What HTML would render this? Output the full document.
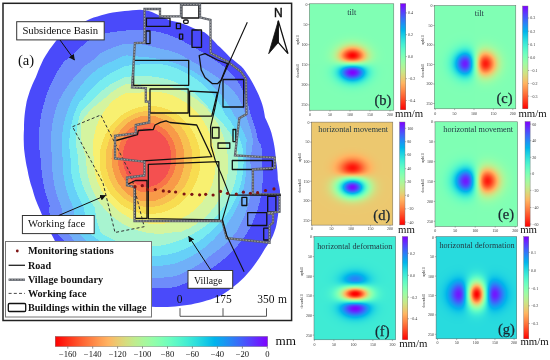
<!DOCTYPE html>
<html><head><meta charset="utf-8"><title>Subsidence figure</title>
<style>
html,body{margin:0;padding:0;background:#fff}
body{width:550px;height:360px;position:relative;overflow:hidden;font-family:"Liberation Serif",serif}
canvas{position:absolute;left:0;top:0}
svg{position:absolute;left:0;top:0}
.t{font-family:"Liberation Serif",serif;fill:#111}
.tk{font-family:"Liberation Serif",serif;fill:#333;font-size:4px}
</style></head><body>
<svg id="fb" width="550" height="360" viewBox="0 0 550 360"><defs><clipPath id="fbcb"><rect x="309.5" y="3.8" width="84.3" height="106.4"/></clipPath><radialGradient id="fg1"><stop offset="0.00" stop-color="#ff0000" stop-opacity="1.00"/><stop offset="0.10" stop-color="#ff0d07" stop-opacity="1.00"/><stop offset="0.20" stop-color="#ff3219" stop-opacity="1.00"/><stop offset="0.30" stop-color="#ff6634" stop-opacity="1.00"/><stop offset="0.40" stop-color="#ff9c52" stop-opacity="1.00"/><stop offset="0.50" stop-color="#edc76e" stop-opacity="1.00"/><stop offset="0.60" stop-color="#cbe486" stop-opacity="0.89"/><stop offset="0.70" stop-color="#b0f497" stop-opacity="0.67"/><stop offset="0.80" stop-color="#9dfba3" stop-opacity="0.44"/><stop offset="0.90" stop-color="#90feab" stop-opacity="0.22"/><stop offset="1.00" stop-color="#88ffaf" stop-opacity="0.00"/></radialGradient><radialGradient id="fg2"><stop offset="0.00" stop-color="#8000ff" stop-opacity="1.00"/><stop offset="0.10" stop-color="#770dff" stop-opacity="1.00"/><stop offset="0.20" stop-color="#5f32fe" stop-opacity="1.00"/><stop offset="0.30" stop-color="#3d66fa" stop-opacity="1.00"/><stop offset="0.40" stop-color="#159cf1" stop-opacity="1.00"/><stop offset="0.50" stop-color="#12c7e6" stop-opacity="1.00"/><stop offset="0.60" stop-color="#34e4d9" stop-opacity="0.89"/><stop offset="0.70" stop-color="#4ff4cd" stop-opacity="0.67"/><stop offset="0.80" stop-color="#62fbc4" stop-opacity="0.44"/><stop offset="0.90" stop-color="#6ffebd" stop-opacity="0.22"/><stop offset="1.00" stop-color="#77ffb9" stop-opacity="0.00"/></radialGradient><linearGradient id="fg3" x1="0" y1="0" x2="0" y2="1"><stop offset="0.000" stop-color="#8000ff"/><stop offset="0.062" stop-color="#6032fe"/><stop offset="0.125" stop-color="#4062fa"/><stop offset="0.188" stop-color="#208ef4"/><stop offset="0.250" stop-color="#00b4ec"/><stop offset="0.312" stop-color="#20d4e1"/><stop offset="0.375" stop-color="#40ecd4"/><stop offset="0.438" stop-color="#60fac5"/><stop offset="0.500" stop-color="#80ffb4"/><stop offset="0.562" stop-color="#9ffaa2"/><stop offset="0.625" stop-color="#bfec8e"/><stop offset="0.688" stop-color="#dfd478"/><stop offset="0.750" stop-color="#ffb462"/><stop offset="0.812" stop-color="#ff8e4a"/><stop offset="0.875" stop-color="#ff6232"/><stop offset="0.938" stop-color="#ff3219"/><stop offset="1.000" stop-color="#ff0000"/></linearGradient><clipPath id="fbcc"><rect x="434.5" y="5.6" width="81.3" height="103.2"/></clipPath><radialGradient id="fg4"><stop offset="0.00" stop-color="#6f1aff" stop-opacity="1.00"/><stop offset="0.10" stop-color="#6726fe" stop-opacity="1.00"/><stop offset="0.20" stop-color="#5148fc" stop-opacity="1.00"/><stop offset="0.30" stop-color="#3177f7" stop-opacity="1.00"/><stop offset="0.40" stop-color="#0ba7ef" stop-opacity="1.00"/><stop offset="0.50" stop-color="#19cee3" stop-opacity="1.00"/><stop offset="0.60" stop-color="#39e7d7" stop-opacity="0.89"/><stop offset="0.70" stop-color="#52f5cc" stop-opacity="0.67"/><stop offset="0.80" stop-color="#64fbc3" stop-opacity="0.44"/><stop offset="0.90" stop-color="#70febd" stop-opacity="0.22"/><stop offset="1.00" stop-color="#77ffb9" stop-opacity="0.00"/></radialGradient><radialGradient id="fg5"><stop offset="0.00" stop-color="#ff1a0d" stop-opacity="1.00"/><stop offset="0.10" stop-color="#ff2613" stop-opacity="1.00"/><stop offset="0.20" stop-color="#ff4824" stop-opacity="1.00"/><stop offset="0.30" stop-color="#ff773d" stop-opacity="1.00"/><stop offset="0.40" stop-color="#ffa759" stop-opacity="1.00"/><stop offset="0.50" stop-color="#e6ce73" stop-opacity="1.00"/><stop offset="0.60" stop-color="#c6e789" stop-opacity="0.89"/><stop offset="0.70" stop-color="#adf599" stop-opacity="0.67"/><stop offset="0.80" stop-color="#9bfba4" stop-opacity="0.44"/><stop offset="0.90" stop-color="#8ffeac" stop-opacity="0.22"/><stop offset="1.00" stop-color="#88ffb0" stop-opacity="0.00"/></radialGradient><linearGradient id="fg6" x1="0" y1="0" x2="0" y2="1"><stop offset="0.000" stop-color="#8000ff"/><stop offset="0.062" stop-color="#6032fe"/><stop offset="0.125" stop-color="#4062fa"/><stop offset="0.188" stop-color="#208ef4"/><stop offset="0.250" stop-color="#00b4ec"/><stop offset="0.312" stop-color="#20d4e1"/><stop offset="0.375" stop-color="#40ecd4"/><stop offset="0.438" stop-color="#60fac5"/><stop offset="0.500" stop-color="#80ffb4"/><stop offset="0.562" stop-color="#9ffaa2"/><stop offset="0.625" stop-color="#bfec8e"/><stop offset="0.688" stop-color="#dfd478"/><stop offset="0.750" stop-color="#ffb462"/><stop offset="0.812" stop-color="#ff8e4a"/><stop offset="0.875" stop-color="#ff6232"/><stop offset="0.938" stop-color="#ff3219"/><stop offset="1.000" stop-color="#ff0000"/></linearGradient><clipPath id="fbcd"><rect x="311.5" y="122.1" width="81.3" height="103.0"/></clipPath><radialGradient id="fg7"><stop offset="0.00" stop-color="#ff160b" stop-opacity="1.00"/><stop offset="0.10" stop-color="#ff1d0e" stop-opacity="1.00"/><stop offset="0.20" stop-color="#ff3018" stop-opacity="1.00"/><stop offset="0.30" stop-color="#ff4c26" stop-opacity="1.00"/><stop offset="0.40" stop-color="#ff6a36" stop-opacity="1.00"/><stop offset="0.50" stop-color="#ff8646" stop-opacity="1.00"/><stop offset="0.60" stop-color="#ff9d53" stop-opacity="0.89"/><stop offset="0.70" stop-color="#ffae5d" stop-opacity="0.67"/><stop offset="0.80" stop-color="#fbb965" stop-opacity="0.44"/><stop offset="0.90" stop-color="#f4c069" stop-opacity="0.22"/><stop offset="1.00" stop-color="#f0c46c" stop-opacity="0.00"/></radialGradient><radialGradient id="fg8"><stop offset="0.00" stop-color="#790aff" stop-opacity="1.00"/><stop offset="0.10" stop-color="#6d1dff" stop-opacity="1.00"/><stop offset="0.20" stop-color="#4c50fc" stop-opacity="1.00"/><stop offset="0.30" stop-color="#1b93f3" stop-opacity="1.00"/><stop offset="0.40" stop-color="#1cd1e2" stop-opacity="1.00"/><stop offset="0.50" stop-color="#52f5cc" stop-opacity="1.00"/><stop offset="0.60" stop-color="#82ffb3" stop-opacity="0.89"/><stop offset="0.70" stop-color="#a8f79d" stop-opacity="0.67"/><stop offset="0.80" stop-color="#c3ea8b" stop-opacity="0.44"/><stop offset="0.90" stop-color="#d5dd7f" stop-opacity="0.22"/><stop offset="1.00" stop-color="#e0d478" stop-opacity="0.00"/></radialGradient><linearGradient id="fg9" x1="0" y1="0" x2="0" y2="1"><stop offset="0.000" stop-color="#8000ff"/><stop offset="0.062" stop-color="#6032fe"/><stop offset="0.125" stop-color="#4062fa"/><stop offset="0.188" stop-color="#208ef4"/><stop offset="0.250" stop-color="#00b4ec"/><stop offset="0.312" stop-color="#20d4e1"/><stop offset="0.375" stop-color="#40ecd4"/><stop offset="0.438" stop-color="#60fac5"/><stop offset="0.500" stop-color="#80ffb4"/><stop offset="0.562" stop-color="#9ffaa2"/><stop offset="0.625" stop-color="#bfec8e"/><stop offset="0.688" stop-color="#dfd478"/><stop offset="0.750" stop-color="#ffb462"/><stop offset="0.812" stop-color="#ff8e4a"/><stop offset="0.875" stop-color="#ff6232"/><stop offset="0.938" stop-color="#ff3219"/><stop offset="1.000" stop-color="#ff0000"/></linearGradient><clipPath id="fbce"><rect x="435.0" y="121.8" width="82.5" height="104.6"/></clipPath><radialGradient id="fg10"><stop offset="0.00" stop-color="#7019ff" stop-opacity="1.00"/><stop offset="0.10" stop-color="#6825fe" stop-opacity="1.00"/><stop offset="0.20" stop-color="#5147fc" stop-opacity="1.00"/><stop offset="0.30" stop-color="#3177f8" stop-opacity="1.00"/><stop offset="0.40" stop-color="#0ca7ef" stop-opacity="1.00"/><stop offset="0.50" stop-color="#19cee3" stop-opacity="1.00"/><stop offset="0.60" stop-color="#39e7d7" stop-opacity="0.89"/><stop offset="0.70" stop-color="#52f5cc" stop-opacity="0.67"/><stop offset="0.80" stop-color="#64fbc3" stop-opacity="0.44"/><stop offset="0.90" stop-color="#70febd" stop-opacity="0.22"/><stop offset="1.00" stop-color="#77ffb9" stop-opacity="0.00"/></radialGradient><radialGradient id="fg11"><stop offset="0.00" stop-color="#ff190c" stop-opacity="1.00"/><stop offset="0.10" stop-color="#ff2513" stop-opacity="1.00"/><stop offset="0.20" stop-color="#ff4724" stop-opacity="1.00"/><stop offset="0.30" stop-color="#ff773d" stop-opacity="1.00"/><stop offset="0.40" stop-color="#ffa759" stop-opacity="1.00"/><stop offset="0.50" stop-color="#e6ce73" stop-opacity="1.00"/><stop offset="0.60" stop-color="#c6e789" stop-opacity="0.89"/><stop offset="0.70" stop-color="#adf599" stop-opacity="0.67"/><stop offset="0.80" stop-color="#9bfba4" stop-opacity="0.44"/><stop offset="0.90" stop-color="#8ffeac" stop-opacity="0.22"/><stop offset="1.00" stop-color="#88ffb0" stop-opacity="0.00"/></radialGradient><linearGradient id="fg12" x1="0" y1="0" x2="0" y2="1"><stop offset="0.000" stop-color="#8000ff"/><stop offset="0.062" stop-color="#6032fe"/><stop offset="0.125" stop-color="#4062fa"/><stop offset="0.188" stop-color="#208ef4"/><stop offset="0.250" stop-color="#00b4ec"/><stop offset="0.312" stop-color="#20d4e1"/><stop offset="0.375" stop-color="#40ecd4"/><stop offset="0.438" stop-color="#60fac5"/><stop offset="0.500" stop-color="#80ffb4"/><stop offset="0.562" stop-color="#9ffaa2"/><stop offset="0.625" stop-color="#bfec8e"/><stop offset="0.688" stop-color="#dfd478"/><stop offset="0.750" stop-color="#ffb462"/><stop offset="0.812" stop-color="#ff8e4a"/><stop offset="0.875" stop-color="#ff6232"/><stop offset="0.938" stop-color="#ff3219"/><stop offset="1.000" stop-color="#ff0000"/></linearGradient><clipPath id="fbcf"><rect x="314.0" y="236.7" width="81.6" height="103.1"/></clipPath><radialGradient id="fg13"><stop offset="0.00" stop-color="#2686f5" stop-opacity="1.00"/><stop offset="0.10" stop-color="#238af5" stop-opacity="1.00"/><stop offset="0.20" stop-color="#1996f2" stop-opacity="1.00"/><stop offset="0.30" stop-color="#0ca7ef" stop-opacity="1.00"/><stop offset="0.40" stop-color="#04b9ea" stop-opacity="1.00"/><stop offset="0.50" stop-color="#14c9e5" stop-opacity="1.00"/><stop offset="0.60" stop-color="#21d5e0" stop-opacity="0.89"/><stop offset="0.70" stop-color="#2cdedc" stop-opacity="0.67"/><stop offset="0.80" stop-color="#33e3d9" stop-opacity="0.44"/><stop offset="0.90" stop-color="#38e7d7" stop-opacity="0.22"/><stop offset="1.00" stop-color="#3be9d6" stop-opacity="0.00"/></radialGradient><radialGradient id="fg14"><stop offset="0.00" stop-color="#7a09ff" stop-opacity="1.00"/><stop offset="0.10" stop-color="#7313ff" stop-opacity="1.00"/><stop offset="0.20" stop-color="#622efe" stop-opacity="1.00"/><stop offset="0.30" stop-color="#4954fb" stop-opacity="1.00"/><stop offset="0.40" stop-color="#2d7df7" stop-opacity="1.00"/><stop offset="0.50" stop-color="#10a1f0" stop-opacity="1.00"/><stop offset="0.60" stop-color="#08bde9" stop-opacity="0.89"/><stop offset="0.70" stop-color="#1cd0e2" stop-opacity="0.67"/><stop offset="0.80" stop-color="#2adcdd" stop-opacity="0.44"/><stop offset="0.90" stop-color="#33e3d9" stop-opacity="0.22"/><stop offset="1.00" stop-color="#39e7d7" stop-opacity="0.00"/></radialGradient><radialGradient id="fg15"><stop offset="0.00" stop-color="#ff0000" stop-opacity="1.00"/><stop offset="0.10" stop-color="#ff1108" stop-opacity="1.00"/><stop offset="0.20" stop-color="#ff3f20" stop-opacity="1.00"/><stop offset="0.30" stop-color="#ff7e41" stop-opacity="1.00"/><stop offset="0.40" stop-color="#f9bb66" stop-opacity="1.00"/><stop offset="0.50" stop-color="#c8e688" stop-opacity="1.00"/><stop offset="0.60" stop-color="#9efba3" stop-opacity="0.89"/><stop offset="0.70" stop-color="#7cffb6" stop-opacity="0.67"/><stop offset="0.80" stop-color="#64fbc3" stop-opacity="0.44"/><stop offset="0.90" stop-color="#54f6cb" stop-opacity="0.22"/><stop offset="1.00" stop-color="#4af1d0" stop-opacity="0.00"/></radialGradient><linearGradient id="fg16" x1="0" y1="0" x2="0" y2="1"><stop offset="0.000" stop-color="#8000ff"/><stop offset="0.062" stop-color="#6032fe"/><stop offset="0.125" stop-color="#4062fa"/><stop offset="0.188" stop-color="#208ef4"/><stop offset="0.250" stop-color="#00b4ec"/><stop offset="0.312" stop-color="#20d4e1"/><stop offset="0.375" stop-color="#40ecd4"/><stop offset="0.438" stop-color="#60fac5"/><stop offset="0.500" stop-color="#80ffb4"/><stop offset="0.562" stop-color="#9ffaa2"/><stop offset="0.625" stop-color="#bfec8e"/><stop offset="0.688" stop-color="#dfd478"/><stop offset="0.750" stop-color="#ffb462"/><stop offset="0.812" stop-color="#ff8e4a"/><stop offset="0.875" stop-color="#ff6232"/><stop offset="0.938" stop-color="#ff3219"/><stop offset="1.000" stop-color="#ff0000"/></linearGradient><clipPath id="fbcg"><rect x="436.1" y="236.7" width="80.6" height="102.1"/></clipPath><radialGradient id="fg17"><stop offset="0.00" stop-color="#7117ff" stop-opacity="1.00"/><stop offset="0.10" stop-color="#6c1fff" stop-opacity="1.00"/><stop offset="0.20" stop-color="#5d35fe" stop-opacity="1.00"/><stop offset="0.30" stop-color="#4955fb" stop-opacity="1.00"/><stop offset="0.40" stop-color="#3177f8" stop-opacity="1.00"/><stop offset="0.50" stop-color="#1996f3" stop-opacity="1.00"/><stop offset="0.60" stop-color="#05afed" stop-opacity="0.89"/><stop offset="0.70" stop-color="#0bc0e8" stop-opacity="0.67"/><stop offset="0.80" stop-color="#17cce4" stop-opacity="0.44"/><stop offset="0.90" stop-color="#1ed3e1" stop-opacity="0.22"/><stop offset="1.00" stop-color="#23d7e0" stop-opacity="0.00"/></radialGradient><radialGradient id="fg18"><stop offset="0.00" stop-color="#7117ff" stop-opacity="1.00"/><stop offset="0.10" stop-color="#6c1fff" stop-opacity="1.00"/><stop offset="0.20" stop-color="#5d35fe" stop-opacity="1.00"/><stop offset="0.30" stop-color="#4955fb" stop-opacity="1.00"/><stop offset="0.40" stop-color="#3177f8" stop-opacity="1.00"/><stop offset="0.50" stop-color="#1996f3" stop-opacity="1.00"/><stop offset="0.60" stop-color="#05afed" stop-opacity="0.89"/><stop offset="0.70" stop-color="#0bc0e8" stop-opacity="0.67"/><stop offset="0.80" stop-color="#17cce4" stop-opacity="0.44"/><stop offset="0.90" stop-color="#1ed3e1" stop-opacity="0.22"/><stop offset="1.00" stop-color="#23d7e0" stop-opacity="0.00"/></radialGradient><radialGradient id="fg19"><stop offset="0.00" stop-color="#ff0000" stop-opacity="1.00"/><stop offset="0.10" stop-color="#ff1209" stop-opacity="1.00"/><stop offset="0.20" stop-color="#ff4322" stop-opacity="1.00"/><stop offset="0.30" stop-color="#ff8646" stop-opacity="1.00"/><stop offset="0.40" stop-color="#efc56d" stop-opacity="1.00"/><stop offset="0.50" stop-color="#bbee90" stop-opacity="1.00"/><stop offset="0.60" stop-color="#8efeac" stop-opacity="0.89"/><stop offset="0.70" stop-color="#69fdc0" stop-opacity="0.67"/><stop offset="0.80" stop-color="#4ff4cd" stop-opacity="0.44"/><stop offset="0.90" stop-color="#3eebd5" stop-opacity="0.22"/><stop offset="1.00" stop-color="#34e4d9" stop-opacity="0.00"/></radialGradient><linearGradient id="fg20" x1="0" y1="0" x2="0" y2="1"><stop offset="0.000" stop-color="#8000ff"/><stop offset="0.062" stop-color="#6032fe"/><stop offset="0.125" stop-color="#4062fa"/><stop offset="0.188" stop-color="#208ef4"/><stop offset="0.250" stop-color="#00b4ec"/><stop offset="0.312" stop-color="#20d4e1"/><stop offset="0.375" stop-color="#40ecd4"/><stop offset="0.438" stop-color="#60fac5"/><stop offset="0.500" stop-color="#80ffb4"/><stop offset="0.562" stop-color="#9ffaa2"/><stop offset="0.625" stop-color="#bfec8e"/><stop offset="0.688" stop-color="#dfd478"/><stop offset="0.750" stop-color="#ffb462"/><stop offset="0.812" stop-color="#ff8e4a"/><stop offset="0.875" stop-color="#ff6232"/><stop offset="0.938" stop-color="#ff3219"/><stop offset="1.000" stop-color="#ff0000"/></linearGradient></defs><rect x="309.5" y="3.8" width="84.3" height="106.4" fill="#80ffb4"/><g clip-path="url(#fbcb)"><ellipse cx="352.5" cy="55.5" rx="26.0" ry="12.8" fill="url(#fg1)"/><ellipse cx="352.5" cy="72.5" rx="26.0" ry="12.8" fill="url(#fg2)"/></g><rect x="400.5" y="3.7" width="5.3" height="106.0" fill="url(#fg3)"/><rect x="434.5" y="5.6" width="81.3" height="103.2" fill="#80ffb4"/><g clip-path="url(#fbcc)"><ellipse cx="465.0" cy="63.7" rx="15.5" ry="23.4" fill="url(#fg4)"/><ellipse cx="485.6" cy="63.7" rx="15.5" ry="23.4" fill="url(#fg5)"/></g><rect x="522.7" y="6.0" width="5.3" height="102.7" fill="url(#fg6)"/><rect x="311.5" y="122.1" width="81.3" height="103.0" fill="#ecc86f"/><g clip-path="url(#fbcd)"><ellipse cx="352.5" cy="169.0" rx="24.7" ry="14.0" fill="url(#fg7)"/><ellipse cx="352.5" cy="187.0" rx="26.0" ry="14.0" fill="url(#fg8)"/></g><rect x="399.7" y="122.0" width="5.3" height="102.9" fill="url(#fg9)"/><rect x="435.0" y="121.8" width="82.5" height="104.6" fill="#80ffb4"/><g clip-path="url(#fbce)"><ellipse cx="465.6" cy="181.0" rx="16.5" ry="24.7" fill="url(#fg10)"/><ellipse cx="487.6" cy="181.0" rx="16.5" ry="24.7" fill="url(#fg11)"/></g><rect x="525.0" y="121.7" width="5.1" height="104.7" fill="url(#fg12)"/><rect x="314.0" y="236.7" width="81.6" height="103.1" fill="#3febd4"/><g clip-path="url(#fbcf)"><ellipse cx="355.2" cy="280.1" rx="26.0" ry="9.4" fill="url(#fg13)"/><ellipse cx="355.2" cy="309.5" rx="26.0" ry="9.4" fill="url(#fg14)"/><ellipse cx="355.2" cy="294.8" rx="26.0" ry="10.2" fill="url(#fg15)"/></g><rect x="402.5" y="236.7" width="5.3" height="102.9" fill="url(#fg16)"/><rect x="436.1" y="236.7" width="80.6" height="102.1" fill="#28dbde"/><g clip-path="url(#fbcg)"><ellipse cx="458.5" cy="294.3" rx="11.6" ry="23.4" fill="url(#fg17)"/><ellipse cx="494.9" cy="294.3" rx="11.6" ry="23.4" fill="url(#fg18)"/><ellipse cx="476.7" cy="294.3" rx="12.6" ry="23.4" fill="url(#fg19)"/></g><rect x="523.8" y="236.7" width="4.9" height="102.1" fill="url(#fg20)"/></svg>
<canvas id="heat" width="550" height="360"></canvas>
<svg id="ov" width="550" height="360" viewBox="0 0 550 360">
<defs>
<linearGradient id="cbar" x1="0" x2="1" y1="0" y2="0"><stop offset="0.0000" stop-color="#ff0000"/><stop offset="0.0417" stop-color="#ff2111"/><stop offset="0.0833" stop-color="#ff4221"/><stop offset="0.1250" stop-color="#ff6232"/><stop offset="0.1667" stop-color="#ff7f42"/><stop offset="0.2083" stop-color="#ff9b52"/><stop offset="0.2500" stop-color="#ffb462"/><stop offset="0.2917" stop-color="#eaca71"/><stop offset="0.3333" stop-color="#d5dd7f"/><stop offset="0.3750" stop-color="#bfec8e"/><stop offset="0.4167" stop-color="#aaf69b"/><stop offset="0.4583" stop-color="#95fda8"/><stop offset="0.5000" stop-color="#80ffb4"/><stop offset="0.5417" stop-color="#6afdc0"/><stop offset="0.5833" stop-color="#55f6ca"/><stop offset="0.6250" stop-color="#40ecd4"/><stop offset="0.6667" stop-color="#2bdddd"/><stop offset="0.7083" stop-color="#15cae5"/><stop offset="0.7500" stop-color="#00b4ec"/><stop offset="0.7917" stop-color="#159bf1"/><stop offset="0.8333" stop-color="#2b7ff6"/><stop offset="0.8750" stop-color="#4062fa"/><stop offset="0.9167" stop-color="#5542fd"/><stop offset="0.9583" stop-color="#6a21fe"/><stop offset="1.0000" stop-color="#8000ff"/></linearGradient>
<marker id="ah" viewBox="0 0 10 10" refX="9" refY="5" markerWidth="6" markerHeight="6" orient="auto-start-reverse" markerUnits="userSpaceOnUse"><path d="M0,0 L10,5 L0,10 z" fill="#111"/></marker>
</defs>
<g shape-rendering="crispEdges"><clipPath id="basin"><polygon points="25.4,159.0 24.9,155.8 24.5,152.5 24.1,149.3 23.9,146.0 23.8,142.6 23.7,139.3 23.7,136.0 23.8,132.6 24.0,129.2 24.0,125.8 24.1,122.3 24.3,118.8 24.6,115.3 25.0,111.8 25.5,108.2 26.1,104.7 26.7,101.2 27.7,97.7 28.8,94.3 29.9,90.8 31.2,87.4 32.6,84.1 34.1,80.7 35.7,77.4 37.1,73.9 38.5,70.3 40.0,66.7 41.6,63.2 43.3,59.6 45.2,56.2 47.3,52.9 49.5,49.6 51.8,46.4 54.2,43.2 56.7,40.1 59.8,37.6 62.9,35.1 66.0,32.8 69.3,30.5 72.6,28.4 76.0,26.3 79.4,24.3 82.9,22.5 86.4,20.7 90.0,19.0 93.7,17.6 97.5,16.4 101.3,15.2 105.1,14.2 108.9,13.2 112.8,12.5 116.7,11.9 120.6,11.4 124.6,11.0 128.5,10.7 132.4,10.3 136.3,10.0 140.2,9.8 144.1,10.2 148.0,10.7 151.9,11.9 155.6,13.7 159.3,15.6 162.9,17.2 166.5,18.8 169.9,20.5 173.5,21.3 177.1,22.1 180.6,23.1 184.1,24.3 187.5,25.6 190.9,27.1 194.2,28.6 197.6,29.7 201.0,30.9 204.4,32.3 207.3,34.6 210.1,37.2 212.7,39.8 215.3,42.5 217.7,45.2 220.4,47.6 222.9,50.0 225.4,52.5 227.8,55.0 230.1,57.6 232.9,59.6 235.6,61.7 238.3,63.9 240.9,66.1 243.3,68.6 245.3,71.3 247.3,74.2 249.2,77.1 251.0,80.0 252.7,82.9 254.3,85.9 255.8,89.0 257.3,92.0 258.7,95.1 260.0,98.2 261.2,101.3 262.3,104.5 263.2,107.7 263.9,111.0 264.5,114.3 265.0,117.6 266.5,120.5 267.8,123.5 269.1,126.6 270.3,129.6 271.4,132.8 272.2,136.0 273.0,139.2 273.7,142.5 274.3,145.7 274.8,149.0 275.2,152.3 275.6,155.7 275.8,159.0 276.3,162.4 276.8,165.7 277.2,169.2 277.5,172.6 277.7,176.1 277.8,179.6 278.6,183.2 279.4,186.9 280.0,190.7 280.0,194.4 279.9,198.1 279.6,201.8 279.3,205.5 278.9,209.2 278.3,213.0 277.8,216.8 277.2,220.6 276.5,224.5 275.6,228.3 274.3,231.9 273.0,235.6 271.3,239.1 269.3,242.3 267.1,245.5 264.9,248.7 263.0,252.1 260.9,255.4 258.8,258.7 256.5,262.0 254.2,265.2 251.8,268.4 249.3,271.5 246.7,274.5 244.0,277.5 241.1,280.3 238.1,283.0 235.0,285.6 231.8,288.1 228.6,290.5 225.2,292.7 221.8,294.9 218.2,296.7 214.4,298.1 210.5,299.4 206.7,300.6 202.8,301.7 198.9,302.7 195.0,303.6 191.1,304.4 187.1,305.0 183.2,305.6 179.3,306.1 175.3,306.5 171.4,306.8 167.5,307.0 163.6,307.1 159.7,307.1 155.8,307.0 151.9,306.8 148.0,306.4 144.2,305.9 140.3,305.4 136.5,304.7 132.8,303.9 129.0,303.1 125.3,302.1 121.6,301.2 118.0,300.3 114.3,299.3 110.7,298.2 107.1,296.9 103.6,295.6 100.1,294.2 96.7,292.8 93.4,290.9 90.3,288.6 87.3,286.2 84.4,283.8 81.6,281.3 78.8,278.8 76.2,276.2 73.7,273.4 71.5,270.3 69.3,267.3 67.3,264.2 65.4,261.0 63.6,257.9 61.8,254.7 60.1,251.6 58.5,248.5 57.0,245.4 55.5,242.2 54.1,239.2 52.5,236.3 51.0,233.5 49.5,230.6 48.1,227.6 46.8,224.7 45.3,221.9 43.9,219.1 42.6,216.2 41.3,213.3 40.2,210.4 38.9,207.6 37.7,204.7 36.5,201.8 35.4,198.9 34.4,195.9 33.5,192.9 32.7,189.9 31.7,186.9 30.7,183.9 29.9,180.9 29.1,177.8 28.4,174.7 27.8,171.6 27.2,168.5 26.5,165.4 25.9,162.2"/></clipPath>
<clipPath id="frameclip"><rect x="3.75" y="4.05" width="287.1" height="315.7"/></clipPath>
<g clip-path="url(#frameclip)"><g clip-path="url(#basin)">
<rect x="0" y="0" width="292" height="322" fill="#4a4afa"/>
<polygon fill="#6e8cfa" points="40.8,162.0 40.6,159.0 40.3,156.0 39.9,152.9 39.5,149.9 39.3,146.8 39.1,143.6 39.0,140.5 39.0,137.3 39.0,134.2 39.2,131.0 39.4,127.8 39.7,124.5 40.1,121.3 40.6,118.1 41.2,114.9 41.9,111.6 42.6,108.4 43.5,105.2 44.4,102.0 45.4,98.7 46.4,95.5 47.6,92.2 48.8,89.0 50.1,85.8 51.6,82.6 53.1,79.5 54.7,76.4 56.4,73.3 58.3,70.2 60.2,67.2 62.2,64.2 64.3,61.2 67.1,59.1 70.1,57.2 72.6,54.6 75.2,52.2 77.8,49.7 80.5,47.3 83.2,44.9 86.0,42.5 88.9,40.3 92.1,38.6 95.4,37.0 98.6,35.4 102.1,34.2 105.6,33.4 109.2,32.7 112.8,32.1 116.4,31.6 119.9,31.1 123.5,30.7 127.0,30.4 130.6,30.1 134.1,30.0 137.6,30.0 141.1,30.1 144.6,30.4 148.1,30.6 151.6,31.0 155.0,31.4 158.4,31.9 161.8,32.7 165.1,33.7 168.4,34.8 171.6,35.9 174.8,37.2 177.9,38.6 180.9,40.1 183.9,41.6 186.8,43.3 189.7,45.0 192.5,46.6 195.3,48.1 198.1,49.7 200.8,51.4 203.5,53.1 206.1,54.9 208.8,56.4 211.5,58.0 214.1,59.6 216.7,61.4 219.2,63.1 221.7,65.0 224.1,66.8 226.5,68.8 228.8,70.8 230.9,73.1 232.9,75.5 234.9,77.8 236.8,80.2 238.6,82.7 240.3,85.2 241.7,87.9 243.0,90.7 244.2,93.5 245.3,96.4 246.4,99.2 247.3,102.0 248.2,104.9 249.0,107.7 249.7,110.6 250.4,113.4 251.2,116.1 252.2,118.7 253.1,121.3 254.0,124.0 254.8,126.7 255.5,129.3 256.2,132.0 256.8,134.7 257.3,137.4 257.9,140.1 259.5,142.6 261.0,145.2 261.6,148.0 261.7,150.8 261.8,153.6 261.8,156.4 261.7,159.2 261.9,162.0 262.3,164.8 262.5,167.6 262.7,170.5 262.8,173.3 262.8,176.2 262.8,179.1 262.6,181.9 262.4,184.8 262.2,187.7 261.8,190.6 261.4,193.5 260.9,196.4 260.3,199.3 259.6,202.2 258.9,205.0 258.0,207.9 257.2,210.7 256.2,213.6 255.1,216.4 254.0,219.2 252.8,221.9 251.5,224.7 250.2,227.4 248.7,230.1 247.2,232.7 245.5,235.3 243.7,237.8 241.9,240.2 240.0,242.7 238.0,245.0 236.0,247.4 233.9,249.7 231.8,251.9 229.6,254.1 227.3,256.2 224.9,258.3 222.5,260.3 220.1,262.2 217.6,264.1 215.0,265.9 212.4,267.7 209.7,269.4 207.1,271.3 204.5,273.1 201.7,274.9 199.0,276.5 196.1,278.1 193.2,279.7 190.3,281.1 187.3,282.5 184.2,283.8 181.2,285.0 178.0,286.2 174.8,287.2 171.5,287.5 168.2,287.8 164.9,287.9 161.6,288.0 158.3,288.1 155.0,288.0 151.7,287.9 148.4,287.6 145.1,287.3 141.9,286.9 138.6,286.4 135.4,285.8 132.2,285.1 129.0,284.3 125.8,283.5 122.7,282.5 119.6,281.5 116.5,280.4 113.5,279.2 110.5,277.9 107.6,276.5 104.6,275.1 101.8,273.6 99.0,272.0 96.2,270.3 93.5,268.6 90.8,266.8 88.2,264.9 85.6,263.0 83.1,261.0 80.7,258.9 78.3,256.7 76.0,254.5 73.7,252.3 71.5,250.0 69.4,247.6 67.3,245.2 65.3,242.7 63.4,240.2 61.2,237.9 59.0,235.6 57.3,233.0 55.9,230.1 54.6,227.2 53.3,224.3 52.2,221.4 51.1,218.4 50.1,215.4 49.2,212.5 49.0,209.2 49.9,205.6 48.8,202.8 47.8,200.0 46.9,197.1 46.0,194.3 45.2,191.4 44.5,188.5 43.8,185.6 43.3,182.7 42.7,179.8 42.3,176.8 41.9,173.9 41.6,170.9 41.3,168.0 41.0,165.0"/>
<polygon fill="#70b0f8" points="52.1,162.0 52.2,159.3 52.0,156.6 51.7,153.9 51.4,151.1 51.2,148.3 51.1,145.5 51.0,142.7 51.0,139.9 51.1,137.1 51.2,134.2 51.5,131.3 51.8,128.5 52.2,125.6 52.6,122.7 53.2,119.8 53.8,116.9 54.5,114.1 55.3,111.2 56.2,108.3 57.1,105.5 58.1,102.6 59.3,99.8 60.7,97.2 62.2,94.5 63.7,92.0 65.3,89.4 67.0,86.9 68.8,84.4 70.7,82.0 72.6,79.6 74.6,77.2 76.6,75.0 78.8,72.7 80.7,70.3 82.7,67.8 85.1,65.8 87.6,63.9 90.1,62.1 92.7,60.3 95.0,58.1 97.4,55.8 99.8,53.6 102.5,52.0 105.4,50.7 108.4,49.4 111.3,48.2 114.3,47.1 117.3,46.1 120.4,45.1 123.4,44.2 126.6,43.7 129.9,43.7 133.1,43.8 136.3,44.0 139.5,44.2 142.7,44.6 145.8,45.1 148.9,45.7 152.0,46.4 155.0,47.1 158.0,48.0 160.9,48.8 163.9,49.4 166.8,50.0 169.6,50.8 172.5,51.6 175.3,52.5 178.0,53.7 180.7,55.0 183.3,56.3 185.9,57.8 188.4,59.2 190.9,60.7 193.4,62.1 195.8,63.4 198.2,64.9 200.6,66.3 203.0,67.9 205.2,69.5 207.6,70.9 210.0,72.3 212.3,73.8 214.6,75.3 216.9,76.8 219.1,78.5 221.3,80.1 223.4,81.9 225.5,83.7 227.6,85.5 229.6,87.4 231.6,89.3 233.5,91.3 235.4,93.4 237.2,95.4 238.5,97.9 239.8,100.4 241.0,102.9 242.1,105.5 243.1,108.0 244.1,110.6 245.0,113.2 245.8,115.7 246.9,118.2 247.8,120.7 248.7,123.2 249.5,125.7 250.2,128.3 250.9,130.8 251.5,133.4 252.1,136.0 252.6,138.6 252.8,141.2 252.6,143.9 252.4,146.6 252.1,149.2 251.6,151.8 251.1,154.4 250.6,157.0 250.0,159.5 250.2,162.0 250.6,164.5 250.9,167.0 251.2,169.6 251.4,172.1 251.5,174.7 251.6,177.3 251.6,179.9 251.5,182.5 251.4,185.1 251.2,187.8 250.9,190.4 250.5,193.0 250.1,195.7 249.6,198.3 249.0,200.9 248.4,203.6 247.7,206.2 246.9,208.8 246.0,211.4 245.1,214.0 244.1,216.6 243.0,219.2 241.9,221.7 240.6,224.2 239.4,226.7 238.0,229.2 236.6,231.7 234.8,233.8 233.0,236.0 231.1,238.1 229.1,240.1 227.1,242.1 225.1,244.1 223.0,246.0 220.9,247.8 218.7,249.6 216.4,251.3 214.1,253.0 211.8,254.6 209.5,256.3 207.2,258.2 204.9,260.0 202.6,261.8 200.2,263.5 197.7,265.1 195.2,266.7 192.6,268.2 190.0,269.7 187.3,271.1 184.6,272.4 181.8,273.7 179.0,274.9 176.1,276.0 173.1,276.5 170.1,276.9 167.1,277.3 164.1,277.5 161.1,277.7 158.0,277.8 155.0,277.8 152.0,277.7 148.9,277.6 145.9,277.3 142.9,277.0 139.9,276.6 136.9,276.1 134.0,275.5 131.0,274.9 128.1,274.1 125.2,273.3 122.3,272.4 119.4,271.4 116.6,270.4 113.8,269.2 111.1,268.0 108.4,266.8 105.7,265.4 103.0,264.0 100.5,262.5 97.9,260.9 95.4,259.3 92.9,257.6 90.5,255.8 88.2,254.0 85.9,252.1 83.6,250.1 81.5,248.1 79.3,246.0 77.2,243.9 75.2,241.8 73.3,239.5 71.4,237.3 69.6,235.0 68.2,232.2 67.1,229.4 66.1,226.6 65.2,223.7 64.3,220.9 63.6,218.0 62.9,215.2 62.3,212.3 61.8,209.5 61.2,206.7 60.2,204.2 59.2,201.7 58.3,199.1 57.4,196.6 56.6,194.0 55.9,191.4 55.2,188.7 54.6,186.1 54.1,183.4 53.6,180.8 53.2,178.1 52.9,175.4 52.6,172.8 52.4,170.1 52.2,167.4 52.1,164.7"/>
<polygon fill="#66d0f8" points="62.6,162.0 62.6,159.6 62.5,157.2 62.2,154.7 62.0,152.2 61.9,149.7 61.8,147.2 61.7,144.7 61.7,142.2 61.8,139.6 62.0,137.1 62.2,134.5 62.5,131.9 62.8,129.4 63.2,126.8 63.7,124.2 64.3,121.6 64.9,119.0 65.6,116.5 66.4,113.9 67.3,111.3 68.2,108.8 69.2,106.3 70.3,103.8 71.4,101.3 72.7,98.8 74.0,96.4 75.4,94.0 76.9,91.6 78.4,89.3 80.0,87.0 81.7,84.8 83.5,82.6 85.4,80.5 87.3,78.4 89.3,76.4 91.4,74.4 93.5,72.5 95.7,70.6 97.9,68.8 100.3,67.3 102.8,65.9 105.3,64.5 107.9,63.2 110.5,62.0 113.1,60.8 115.7,59.7 118.3,58.4 120.9,57.2 123.6,56.0 126.4,55.4 129.5,55.6 132.4,55.8 135.4,56.2 138.3,56.6 141.2,56.9 144.0,57.0 146.8,57.2 149.5,57.5 152.3,57.9 155.0,58.4 157.7,58.9 160.4,59.5 163.0,60.0 165.7,60.5 168.3,61.2 170.9,61.9 173.4,62.6 175.9,63.5 178.4,64.4 180.9,65.3 183.3,66.4 185.7,67.4 188.1,68.6 190.4,69.8 192.7,71.0 194.9,72.3 197.1,73.7 199.3,75.1 201.4,76.6 203.5,78.1 205.5,79.6 207.5,81.2 209.4,82.9 211.3,84.5 213.1,86.3 214.9,88.0 216.6,89.8 218.3,91.7 220.0,93.5 221.5,95.5 223.1,97.4 224.6,99.4 226.0,101.4 227.3,103.4 228.7,105.5 229.9,107.6 231.1,109.7 232.3,111.8 233.3,114.0 234.6,116.0 236.0,118.0 237.3,120.1 238.5,122.2 239.7,124.3 240.9,126.4 242.0,128.6 243.1,130.8 244.0,133.1 245.0,135.3 245.9,137.7 246.7,140.0 246.5,142.5 246.3,145.1 246.2,147.6 246.2,150.0 246.2,152.4 246.1,154.8 245.9,157.2 245.7,159.6 245.8,162.0 245.9,164.4 246.0,166.8 246.0,169.2 245.9,171.6 245.8,173.9 245.6,176.3 245.3,178.7 245.0,181.1 244.6,183.5 244.1,185.9 243.6,188.3 243.1,190.6 242.4,193.0 241.7,195.3 240.9,197.6 240.1,199.9 239.2,202.2 238.3,204.4 237.3,206.7 236.2,208.9 235.1,211.1 233.9,213.2 232.7,215.4 231.4,217.5 230.0,219.6 228.6,221.6 227.2,223.6 225.7,225.6 224.1,227.6 222.5,229.5 220.8,231.3 219.2,233.3 217.5,235.2 215.8,237.1 214.1,239.0 212.2,240.8 210.4,242.6 208.4,244.3 206.5,246.0 204.4,247.6 202.3,249.2 200.2,250.7 198.0,252.2 195.8,253.6 193.5,255.0 191.2,256.3 188.8,257.6 186.4,258.8 184.0,259.9 181.5,261.0 179.0,262.0 176.5,262.9 173.9,263.7 171.2,264.3 168.5,264.7 165.8,265.1 163.1,265.5 160.4,265.7 157.7,265.9 155.0,266.0 152.3,266.1 149.5,266.0 146.8,265.9 144.1,265.7 141.4,265.5 138.7,265.1 136.0,264.7 133.3,264.2 130.6,263.7 127.9,263.0 125.3,262.3 122.7,261.5 120.1,260.6 117.5,259.7 114.9,258.7 112.4,257.6 109.9,256.5 107.5,255.2 105.1,253.9 102.7,252.6 100.4,251.2 98.1,249.7 95.8,248.1 93.6,246.5 91.4,244.9 89.3,243.1 87.2,241.3 85.2,239.5 83.2,237.6 81.3,235.7 79.7,233.4 78.7,230.7 77.7,228.0 76.9,225.3 76.1,222.5 75.4,219.8 74.8,217.1 74.3,214.4 73.9,211.7 73.5,209.0 73.0,206.5 71.9,204.3 70.9,202.1 70.0,199.9 69.1,197.6 68.3,195.3 67.5,193.0 66.8,190.7 66.1,188.3 65.5,186.0 65.0,183.6 64.5,181.2 64.0,178.9 63.7,176.5 63.3,174.1 63.1,171.7 62.9,169.3 62.7,166.8 62.6,164.4"/>
<polygon fill="#78ecf0" points="70.5,162.0 70.5,159.8 70.5,157.6 70.2,155.3 69.9,153.1 69.7,150.8 69.5,148.5 69.4,146.1 69.3,143.8 69.4,141.4 69.4,139.1 69.6,136.7 69.8,134.3 70.1,131.9 70.4,129.5 70.8,127.1 71.3,124.7 71.8,122.3 72.4,119.9 73.1,117.5 73.9,115.2 74.7,112.8 75.6,110.4 76.5,108.1 77.5,105.7 78.6,103.4 79.8,101.1 82.3,99.9 83.8,97.9 85.3,95.9 86.9,93.9 88.6,92.0 90.3,90.1 92.0,88.2 93.8,86.4 95.7,84.7 97.6,83.0 99.5,81.3 101.5,79.7 103.6,78.1 105.7,76.6 107.8,75.1 110.0,73.7 112.3,72.4 114.5,71.1 116.8,69.9 119.2,68.7 121.6,67.6 124.0,66.6 126.5,65.9 129.1,65.5 131.7,65.1 134.3,64.8 137.0,64.6 139.6,64.5 142.1,64.3 144.7,64.0 147.3,63.9 149.9,63.8 152.4,63.8 155.0,63.9 157.6,64.0 160.1,64.2 162.7,64.5 165.2,64.8 167.7,65.5 170.2,66.2 172.6,67.0 175.0,67.9 177.4,68.8 179.7,69.8 182.0,70.8 184.3,71.9 186.5,73.1 188.7,74.3 190.8,75.6 192.9,76.9 194.9,78.3 196.9,79.7 198.9,81.2 200.8,82.7 202.7,84.2 204.5,85.8 206.2,87.5 207.9,89.2 209.6,90.9 211.2,92.6 212.7,94.4 214.2,96.3 215.6,98.1 217.0,100.0 218.3,101.9 219.6,103.9 220.8,105.8 221.9,107.8 223.0,109.8 224.0,111.9 225.0,113.9 226.3,115.7 227.7,117.5 229.0,119.3 230.3,121.1 231.5,123.0 232.7,124.9 233.9,126.9 235.0,128.9 236.1,130.9 237.1,132.9 238.1,135.0 239.0,137.1 239.9,139.3 240.7,141.4 241.4,143.6 242.1,145.8 242.6,148.1 242.9,150.4 243.1,152.7 243.3,155.1 243.4,157.4 243.5,159.7 243.5,162.0 243.5,164.3 243.4,166.6 243.2,168.9 243.0,171.3 242.7,173.6 242.4,175.8 242.0,178.1 241.6,180.4 241.1,182.7 240.5,184.9 239.9,187.1 239.2,189.4 238.5,191.6 237.7,193.8 236.9,195.9 236.0,198.1 235.0,200.2 234.0,202.3 233.0,204.3 231.9,206.4 230.7,208.4 229.5,210.4 228.2,212.3 226.9,214.2 225.5,216.1 224.1,218.0 222.7,219.8 221.2,221.6 219.6,223.3 218.0,225.0 216.3,226.6 214.6,228.2 212.9,229.8 211.1,231.3 209.4,232.8 207.6,234.4 205.8,236.0 204.0,237.5 202.1,238.9 200.2,240.3 198.3,241.7 196.3,243.0 194.2,244.2 192.1,245.4 190.0,246.6 187.9,247.6 185.7,248.7 183.5,249.6 181.2,250.6 179.0,251.4 176.7,252.2 174.3,252.9 172.0,253.5 169.6,254.1 167.2,254.6 164.8,255.0 162.3,255.3 159.9,255.6 157.5,255.8 155.0,256.0 152.5,256.1 150.1,256.1 147.6,256.1 145.1,255.9 142.7,255.8 140.2,255.5 137.7,255.2 135.3,254.8 132.8,254.4 130.4,253.9 128.0,253.3 125.6,252.6 123.2,251.9 120.8,251.1 118.4,250.3 116.1,249.4 113.8,248.4 111.5,247.4 109.2,246.3 107.0,245.2 104.8,244.0 102.6,242.7 100.5,241.4 98.3,240.0 96.3,238.5 94.2,237.0 92.2,235.5 90.3,233.9 89.2,231.4 88.3,228.7 87.4,226.1 86.7,223.5 86.1,220.9 85.5,218.3 85.0,215.7 84.7,213.1 84.4,210.6 84.1,208.0 83.2,206.0 82.0,204.1 81.0,202.2 80.0,200.2 79.0,198.3 78.1,196.3 77.2,194.2 76.4,192.2 75.6,190.1 74.9,188.0 74.2,185.9 73.6,183.8 73.1,181.7 72.6,179.5 72.1,177.4 71.7,175.2 71.4,173.0 71.1,170.8 70.9,168.6 70.7,166.4 70.6,164.2"/>
<polygon fill="#a8f4d0" points="78.3,162.0 78.3,160.0 78.3,158.0 77.8,155.9 77.4,153.8 77.1,151.7 76.8,149.6 76.5,147.5 76.3,145.3 76.2,143.1 76.1,140.9 76.1,138.6 76.2,136.4 76.3,134.1 76.5,131.9 76.7,129.6 77.1,127.3 77.4,125.0 77.9,122.7 78.4,120.4 79.0,118.1 79.6,115.8 80.4,113.5 81.5,111.5 83.0,109.7 84.5,107.9 86.1,106.2 87.7,104.5 89.3,102.9 91.0,101.3 92.7,99.7 94.2,98.0 95.9,96.3 97.5,94.7 99.2,93.1 101.0,91.6 102.8,90.1 104.6,88.7 106.5,87.3 108.4,85.9 110.3,84.6 112.3,83.4 114.3,82.2 116.4,81.1 118.5,80.0 120.6,79.0 122.8,78.0 124.9,77.1 127.3,76.7 129.7,76.5 132.1,76.4 134.4,76.3 136.8,76.3 139.1,76.3 141.4,76.3 143.7,76.2 146.0,76.2 148.3,76.3 150.5,76.4 152.8,76.6 155.0,76.9 157.2,77.2 159.4,77.6 161.6,78.0 163.8,78.5 165.9,79.0 168.0,79.6 170.1,80.3 172.2,81.0 174.3,81.8 176.3,82.6 178.3,83.5 180.2,84.4 182.1,85.4 184.0,86.4 185.9,87.4 187.7,88.6 189.5,89.7 191.2,90.9 192.9,92.1 194.6,93.4 196.2,94.7 197.8,96.1 199.3,97.5 200.8,98.9 202.3,100.4 203.7,101.9 205.1,103.4 206.4,104.9 207.7,106.5 208.9,108.1 210.1,109.7 211.2,111.4 212.3,113.1 213.5,114.6 215.1,115.9 216.6,117.3 218.1,118.6 219.5,120.1 221.0,121.6 222.4,123.1 223.7,124.7 225.1,126.3 226.4,128.0 227.6,129.7 228.9,131.4 230.0,133.2 231.2,135.0 232.3,136.9 233.3,138.8 234.3,140.7 235.3,142.7 236.2,144.7 236.9,146.8 237.2,149.0 237.5,151.1 237.7,153.3 237.8,155.5 237.9,157.7 237.9,159.8 237.9,162.0 237.8,164.2 237.7,166.3 237.5,168.5 237.3,170.6 237.0,172.8 236.6,174.9 236.2,177.0 235.7,179.2 235.2,181.3 234.6,183.3 234.0,185.4 233.3,187.5 232.6,189.5 231.8,191.5 231.0,193.5 230.1,195.4 229.2,197.4 228.2,199.3 227.2,201.2 226.1,203.0 224.9,204.9 223.8,206.7 222.5,208.4 221.3,210.2 220.0,211.9 218.6,213.5 217.2,215.1 215.8,216.7 214.3,218.3 212.8,219.8 211.2,221.2 209.6,222.6 208.0,224.0 206.3,225.4 204.6,226.6 202.9,227.9 201.1,229.1 199.3,230.2 197.5,231.3 195.6,232.4 193.8,233.5 192.0,234.5 190.1,235.6 188.2,236.6 186.3,237.5 184.3,238.4 182.3,239.2 180.3,240.0 178.3,240.7 176.3,241.4 174.2,242.0 172.2,242.7 170.1,243.4 168.0,244.0 165.9,244.5 163.7,245.0 161.6,245.4 159.4,245.7 157.2,246.0 155.0,246.3 152.8,246.4 150.6,246.6 148.3,246.6 146.1,246.6 143.9,246.6 141.6,246.5 139.4,246.3 137.1,246.0 134.9,245.7 132.7,245.4 130.4,245.0 128.2,244.5 126.0,244.0 123.8,243.4 121.6,242.7 119.4,242.0 117.2,241.2 115.1,240.4 112.9,239.5 110.8,238.5 108.7,237.5 106.7,236.4 104.6,235.3 102.6,234.1 100.9,232.5 99.9,230.0 99.0,227.5 98.2,225.1 97.5,222.6 96.9,220.1 96.3,217.7 95.9,215.2 95.5,212.8 95.3,210.4 95.1,208.0 94.0,206.3 92.8,204.7 91.7,203.1 90.6,201.5 89.6,199.8 88.6,198.1 87.6,196.3 86.7,194.6 85.8,192.8 85.0,191.0 84.2,189.2 83.5,187.3 82.8,185.5 82.1,183.6 81.6,181.7 81.0,179.8 80.5,177.8 80.1,175.9 79.7,173.9 79.3,172.0 79.0,170.0 78.8,168.0 78.6,166.0 78.4,164.0"/>
<polygon fill="#d4f4a0" points="86.4,162.0 86.4,160.2 86.5,158.4 85.9,156.6 85.1,154.7 84.4,152.7 83.8,150.7 83.2,148.7 82.7,146.6 82.2,144.5 81.8,142.4 81.4,140.2 81.2,138.0 80.9,135.8 80.8,133.5 80.7,131.2 80.7,128.9 80.8,126.6 80.9,124.3 81.3,122.0 82.5,120.2 83.8,118.4 85.1,116.6 86.5,114.9 87.9,113.2 89.3,111.6 90.8,110.0 92.4,108.5 93.9,107.0 95.5,105.6 97.2,104.2 98.9,102.8 100.6,101.5 102.3,100.3 103.9,98.9 105.5,97.5 107.1,96.0 108.7,94.7 110.4,93.3 112.1,92.0 113.9,90.8 115.7,89.6 117.5,88.5 119.4,87.4 121.3,86.3 123.2,85.3 125.2,84.4 127.5,84.3 129.7,84.2 131.9,84.2 134.2,84.2 136.3,84.3 138.5,84.5 140.6,84.5 142.7,84.3 144.7,84.1 146.8,84.0 148.9,83.9 150.9,83.9 153.0,84.0 155.0,84.1 157.0,84.2 159.1,84.4 161.1,84.7 163.1,85.0 165.1,85.4 167.1,85.8 169.0,86.3 171.0,86.8 172.9,87.4 174.8,88.0 176.7,88.6 178.6,89.4 180.5,90.1 182.3,90.9 184.1,91.8 185.9,92.7 187.6,93.6 189.3,94.6 191.0,95.7 192.7,96.7 194.3,97.8 195.9,99.0 197.5,100.2 199.0,101.4 200.5,102.7 202.0,104.0 203.4,105.3 204.8,106.6 206.2,108.0 207.5,109.5 208.8,110.9 210.1,112.4 211.3,113.9 212.4,115.5 213.6,117.1 214.6,118.7 215.7,120.3 216.7,121.9 217.7,123.6 218.6,125.3 219.4,127.0 220.3,128.7 221.1,130.5 221.8,132.3 222.5,134.0 223.1,135.8 223.7,137.7 224.3,139.5 224.8,141.3 225.3,143.2 225.7,145.0 226.1,146.9 226.5,148.7 226.9,150.6 227.2,152.5 227.5,154.4 227.7,156.3 227.9,158.2 228.0,160.1 228.1,162.0 228.2,163.9 228.1,165.8 228.1,167.8 228.0,169.7 227.8,171.6 227.6,173.5 227.3,175.4 227.0,177.3 226.6,179.2 226.2,181.1 225.7,182.9 225.2,184.8 224.6,186.7 224.0,188.5 223.3,190.3 222.6,192.1 221.8,193.9 221.0,195.6 220.2,197.4 219.2,199.1 218.3,200.8 217.3,202.4 216.2,204.1 215.1,205.7 214.0,207.3 212.8,208.8 211.6,210.3 210.3,211.8 209.0,213.2 207.7,214.7 206.3,216.0 204.9,217.4 203.4,218.7 201.9,219.9 200.4,221.1 198.8,222.3 197.2,223.4 195.6,224.5 193.9,225.5 192.3,226.5 190.6,227.5 188.8,228.4 187.1,229.2 185.3,230.0 183.5,230.8 181.7,231.5 179.8,232.0 177.7,232.0 175.7,231.9 173.8,232.2 171.9,232.5 170.1,232.9 168.2,233.1 166.3,233.3 164.4,233.5 162.5,233.6 160.6,233.7 158.8,233.7 156.9,233.7 155.0,233.6 153.1,233.4 151.3,233.3 149.4,233.0 147.6,232.7 145.7,232.4 143.9,232.0 142.1,231.6 140.3,231.2 138.5,230.6 136.8,230.1 135.0,229.5 133.3,228.9 131.6,228.2 129.9,227.4 128.2,226.7 126.6,225.9 124.9,225.0 123.3,224.1 121.8,223.2 120.2,222.2 118.7,221.2 117.2,220.2 115.7,219.1 114.3,218.0 112.9,216.9 111.5,215.7 110.1,214.5 108.8,213.3 107.5,212.0 106.3,210.7 105.1,209.4 103.9,208.0 102.7,206.7 101.6,205.2 100.5,203.8 99.5,202.3 98.5,200.9 97.5,199.4 96.5,197.8 95.6,196.3 94.8,194.7 94.0,193.1 93.2,191.5 92.4,189.9 91.7,188.2 91.1,186.5 90.5,184.9 89.9,183.2 89.4,181.4 88.9,179.7 88.4,178.0 88.0,176.2 87.7,174.5 87.3,172.7 87.1,170.9 86.8,169.2 86.7,167.4 86.5,165.6 86.4,163.8"/>
<polygon fill="#f8f070" points="93.8,162.0 93.8,160.4 93.8,158.8 93.7,157.2 93.5,155.5 93.3,153.9 93.1,152.2 93.0,150.5 93.0,148.8 92.9,147.1 93.0,145.4 93.1,143.7 93.2,141.9 93.4,140.2 93.6,138.4 93.9,136.7 94.2,134.9 94.6,133.2 95.0,131.4 95.5,129.7 96.0,128.0 96.6,126.2 97.3,124.5 97.9,122.8 98.7,121.1 99.5,119.4 100.3,117.7 101.2,116.1 102.2,114.4 103.2,112.8 104.2,111.2 105.3,109.6 106.4,108.1 107.6,106.6 108.9,105.1 110.2,103.6 111.5,102.2 112.9,100.8 114.4,99.6 116.1,98.4 117.7,97.4 119.4,96.4 121.1,95.4 122.8,94.5 124.5,93.6 126.5,93.1 128.5,92.9 130.5,92.7 132.4,92.6 134.4,92.5 136.4,92.5 138.3,92.5 140.2,92.6 142.1,92.3 143.9,92.1 145.8,91.9 147.6,91.7 149.5,91.7 151.3,91.6 153.2,91.6 155.0,91.7 156.8,91.8 158.7,92.0 160.5,92.2 162.3,92.5 164.1,92.8 165.9,93.2 167.6,93.8 169.4,94.3 171.1,94.9 172.8,95.6 174.5,96.3 176.1,97.1 177.7,97.9 179.3,98.7 180.9,99.6 182.4,100.5 183.9,101.4 185.4,102.4 186.8,103.4 188.2,104.5 189.6,105.6 190.9,106.7 192.2,107.8 193.5,109.0 194.7,110.2 195.9,111.5 197.1,112.7 198.2,114.0 199.3,115.3 200.4,116.6 201.4,118.0 202.3,119.4 203.3,120.8 204.2,122.2 205.0,123.6 205.8,125.1 206.6,126.5 207.4,128.0 208.1,129.5 208.7,131.0 209.3,132.5 209.9,134.0 210.4,135.6 210.9,137.1 211.4,138.6 211.8,140.2 212.2,141.7 212.5,143.3 212.8,144.9 213.1,146.4 213.5,147.9 213.9,149.5 214.3,151.0 214.6,152.6 214.8,154.1 215.0,155.7 215.2,157.3 215.4,158.8 215.5,160.4 215.5,162.0 215.5,163.6 215.5,165.2 215.5,166.8 215.4,168.3 215.2,169.9 215.0,171.5 214.8,173.1 214.6,174.7 214.3,176.2 213.9,177.8 213.5,179.3 213.1,180.9 212.7,182.4 212.2,183.9 211.6,185.4 211.0,186.9 210.4,188.4 209.7,189.9 209.0,191.3 208.3,192.8 207.5,194.2 206.7,195.6 205.8,196.9 205.0,198.3 204.0,199.6 203.1,200.9 202.1,202.2 201.0,203.4 200.0,204.7 198.9,205.9 197.7,207.0 196.6,208.2 195.4,209.3 194.1,210.3 192.9,211.4 191.6,212.4 190.3,213.3 188.9,214.3 187.6,215.2 186.2,216.0 184.8,216.8 183.3,217.6 181.9,218.4 180.4,219.1 178.9,219.7 177.4,220.3 175.9,220.9 174.3,221.4 172.7,221.9 171.2,222.3 169.6,222.7 168.0,223.0 166.4,223.3 164.7,223.5 163.1,223.7 161.5,223.8 159.9,224.0 158.3,224.0 156.6,224.0 155.0,224.0 153.4,223.9 151.8,223.8 150.1,223.7 148.5,223.5 146.9,223.2 145.3,222.9 143.8,222.6 142.2,222.3 140.6,221.9 139.1,221.4 137.5,220.9 136.0,220.4 134.5,219.8 133.0,219.2 131.6,218.6 130.1,217.9 128.7,217.2 127.3,216.5 125.9,215.7 124.5,214.9 123.1,214.0 121.8,213.1 120.5,212.2 119.2,211.3 118.0,210.3 116.7,209.3 115.5,208.2 114.3,207.2 113.2,206.1 112.1,204.9 111.0,203.8 109.9,202.6 108.9,201.4 107.9,200.2 106.9,198.9 106.0,197.6 105.0,196.3 104.2,195.0 103.3,193.7 102.5,192.3 101.7,190.9 101.0,189.5 100.3,188.1 99.6,186.7 98.9,185.2 98.3,183.7 97.8,182.3 97.2,180.8 96.7,179.3 96.3,177.7 95.9,176.2 95.5,174.7 95.1,173.1 94.8,171.5 94.6,170.0 94.3,168.4 94.1,166.8 94.0,165.2 93.9,163.6"/>
<ellipse fill="#f8dc50" cx="150.0" cy="160.0" rx="50.5" ry="54.0"/>
<ellipse fill="#f8c050" cx="149.0" cy="159.0" rx="43.4" ry="48.0"/>
<ellipse fill="#f89a48" cx="148.0" cy="158.5" rx="36.5" ry="43.0"/>
<ellipse fill="#f87448" cx="147.0" cy="157.5" rx="29.5" ry="35.0"/>
<ellipse fill="#f45050" cx="147.0" cy="157.5" rx="24.5" ry="29.5"/>
</g></g></g>
<!-- frame -->
<rect x="3" y="3.3" width="288.6" height="317.2" fill="none" stroke="#222" stroke-width="1.5"/>
<!-- working face -->
<path d="M72.5,126.7 L100.8,115 L131,175 L144.2,226.7 L115,232.5 L103,183 Z" fill="none" stroke="#333" stroke-width="1" stroke-dasharray="3,2.2"/>
<!-- buildings -->
<g fill="none" stroke="#111" stroke-width="1.3" stroke-linejoin="round">
<rect x="146.4" y="18.2" width="23.6" height="8.2"/>
<rect x="176.4" y="23.3" width="4.1" height="5.4"/>
<rect x="179.5" y="34.2" width="3.2" height="4.9"/>
<rect x="183.6" y="20" width="4.6" height="3.3" rx="1.2"/>
<rect x="192" y="30" width="9.5" height="17.3"/>
<rect x="181.8" y="4.8" width="17" height="13.2" fill="#fff"/>
<rect x="146" y="31" width="4" height="12.6"/>
<path d="M199.2,55.5 L205,53.7 L217.5,60 L227.5,63.7 L221.2,80 L217.5,83.7 L212.5,83.7 L205,77.5 L201.2,70 Z"/>
<rect x="223" y="79.5" width="20.7" height="27.5"/>
<rect x="133.6" y="60.4" width="55.1" height="24.9"/>
<rect x="150" y="89" width="38.2" height="24"/>
<path d="M189.5,91.2 L217.5,92.5 L211.8,116.2 L189.5,116.2 Z"/>
<path d="M116.2,140.5 L137.5,134.7 L138.3,130.5 L153.3,129.5 L155,125 L160.5,122.3 L166,120.8 L170,122.5 L196.7,125 L211.7,156.7 L143,160.8"/>
<path d="M148.3,164.3 L218.8,161.6 L219.3,219.8 L148.3,218.6 Z"/>
<path d="M128,184.2 L135.4,180.5 L147,180.5 L147,218.4 L135.4,218.4 L135.4,187"/>
<rect x="212.3" y="127.5" width="6.7" height="10.5"/>
<rect x="218" y="143" width="11.8" height="5.3"/>
<rect x="233" y="129.5" width="2.8" height="12.1"/>
<rect x="232.3" y="160.5" width="40" height="9"/>
<rect x="241.9" y="197.3" width="4.9" height="8.2"/>
<rect x="247.7" y="212.7" width="19.1" height="12.8"/>
<rect x="267.7" y="196.4" width="8.2" height="15.4"/>
<rect x="263.7" y="228.2" width="5.8" height="11.8"/>
</g>
<!-- village boundary -->
<g fill="none" stroke-linejoin="miter">
<path id="vb" d="M144.5,42.7 L144.5,9 L160,9 L160,16.4 L181,16.4 L181,4.5 L200,4.5 L200,17.3 L210.5,20 L210.5,53 L228,61.8 L241,71.8 L246,79 L246.5,114 L239.3,118.3 L235,155.5 L274.8,157.7 L274.8,167.9 L252.9,169.3 L252.9,194.1 L279.5,194.5 L279.5,211.8 L267.7,213 L273,214 L273,222.7 L269.5,225.5 L269.5,242.7 L226.8,238.2 L222.3,221 L134.5,221 L134.5,187 L127,185.3 L127,177.5 L144.5,175.5 L144.5,161.7 L115,158.5 L115,135.8 L135.8,133.3 L135.8,125 L149.2,122.5 L149.2,101.7 L145.8,101.7 L145.8,88 L132,87.5 L134.9,43 Z" stroke="#5c6068" stroke-width="2.3"/>
<path d="M144.5,42.7 L144.5,9 L160,9 L160,16.4 L181,16.4 L181,4.5 L200,4.5 L200,17.3 L210.5,20 L210.5,53 L228,61.8 L241,71.8 L246,79 L246.5,114 L239.3,118.3 L235,155.5 L274.8,157.7 L274.8,167.9 L252.9,169.3 L252.9,194.1 L279.5,194.5 L279.5,211.8 L267.7,213 L273,214 L273,222.7 L269.5,225.5 L269.5,242.7 L226.8,238.2 L222.3,221 L134.5,221 L134.5,187 L127,185.3 L127,177.5 L144.5,175.5 L144.5,161.7 L115,158.5 L115,135.8 L135.8,133.3 L135.8,125 L149.2,122.5 L149.2,101.7 L145.8,101.7 L145.8,88 L132,87.5 L134.9,43 Z" stroke="#b4b4b4" stroke-width="0.8" stroke-dasharray="1.5,1.4"/>
</g>
<!-- roads -->
<g fill="none" stroke="#111" stroke-width="1.1" stroke-linejoin="round">
<path d="M247.3,22.2 L220,83 L215,108 L210.5,127 L211,146 L215.3,160.5 L221.9,175.7 L229.5,195.1 L281,195.1"/>
<path d="M229.5,195.1 L222.3,220 L226.8,235.5 L244.1,271.8"/>
</g>
<!-- monitoring stations -->
<g fill="#7d1414">
<circle cx="135" cy="186.7" r="1.6"/><circle cx="142.3" cy="185.7" r="1.6"/><circle cx="147.6" cy="189.7" r="1.6"/><circle cx="155.3" cy="189.6" r="1.6"/><circle cx="163.3" cy="190.9" r="1.6"/><circle cx="169.2" cy="191.5" r="1.6"/><circle cx="175.6" cy="192" r="1.6"/><circle cx="184.1" cy="194" r="1.6"/><circle cx="191.9" cy="194.3" r="1.6"/><circle cx="199.6" cy="194.8" r="1.6"/><circle cx="205.7" cy="194.3" r="1.6"/><circle cx="213.1" cy="195" r="1.6"/><circle cx="220.5" cy="191.4" r="1.6"/><circle cx="227.5" cy="193.3" r="1.6"/><circle cx="236.3" cy="194.1" r="1.6"/><circle cx="243.4" cy="192.2" r="1.6"/><circle cx="250.4" cy="193.3" r="1.6"/><circle cx="257.6" cy="192.7" r="1.6"/><circle cx="265.5" cy="190.5" r="1.6"/><circle cx="274" cy="188.9" r="1.6"/>
</g>
<!-- callout boxes -->
<g fill="#fff" stroke="#333" stroke-width="1">
<rect x="16.7" y="21.7" width="87.5" height="18.2"/>
<rect x="22.4" y="215.5" width="71.8" height="18.1"/>
<rect x="188" y="270.5" width="44.7" height="17.8"/>
</g>
<g stroke="#111" stroke-width="1" fill="none">
<line x1="60" y1="40" x2="74.5" y2="60" marker-end="url(#ah)"/>
<line x1="58.7" y1="215.5" x2="105.5" y2="195.5" marker-end="url(#ah)"/>
<line x1="211" y1="270.5" x2="188.7" y2="236.4" marker-end="url(#ah)"/>
</g>
<text class="t" x="22.4" y="33.7" font-size="10.7">Subsidence Basin</text>
<text class="t" x="28" y="227.3" font-size="10.6">Working face</text>
<text class="t" x="194" y="283.6" font-size="9.8">Village</text>
<text class="t" x="18" y="65" font-size="14.6">(a)</text>
<!-- north arrow -->
<text x="273.9" y="16.9" font-family="Liberation Sans, sans-serif" font-size="12" fill="#111" stroke="#111" stroke-width="0.45">N</text>
<path d="M278.3,20.8 L268.7,53.7 L278.3,42.5 Z" fill="#111" stroke="#111" stroke-width="0.8" stroke-linejoin="miter"/>
<path d="M278.3,20.8 L278.3,42.5 L288,53.7 Z" fill="#fff" stroke="#111" stroke-width="1.25" stroke-linejoin="miter"/>
<!-- scale bar -->
<g class="t" font-size="11.5" text-anchor="middle">
<text x="179.6" y="302.6">0</text><text x="223" y="302.6">175</text><text x="265.8" y="302.6">350</text>
</g>
<text class="t" x="278" y="302.6" font-size="11.5">m</text>
<path d="M180,308.2 V316.3 H266.5 V308.2 M223,308.2 V316.3" fill="none" stroke="#555" stroke-width="1"/>
<!-- legend -->
<rect x="5.5" y="241.5" width="146" height="75.5" fill="#fff" stroke="#777" stroke-width="1"/>
<circle cx="17.3" cy="251" r="1.4" fill="#7d1414"/>
<line x1="8.6" y1="265.3" x2="25" y2="265.3" stroke="#222" stroke-width="1.3"/>
<line x1="8.6" y1="279.7" x2="25" y2="279.7" stroke="#5c6068" stroke-width="2.3"/>
<line x1="8.6" y1="279.7" x2="25" y2="279.7" stroke="#b4b4b4" stroke-width="0.8" stroke-dasharray="1.5,1.4"/>
<line x1="8.6" y1="293.4" x2="25" y2="293.4" stroke="#333" stroke-width="0.9" stroke-dasharray="3,2.2"/>
<rect x="8.3" y="303.5" width="17.4" height="8" rx="1.2" fill="#fff" stroke="#111" stroke-width="1.3"/>
<g class="t" font-size="10.2" font-weight="bold">
<text x="27.9" y="254.3">Monitoring stations</text>
<text x="27.9" y="268.6">Road</text>
<text x="27.9" y="282.8">Village boundary</text>
<text x="27.9" y="297.2">Working face</text>
<text x="27.9" y="311.3">Buildings within the village</text>
</g>
<!-- bottom colorbar -->
<rect x="55.2" y="336.4" width="212.5" height="10.2" fill="url(#cbar)" stroke="#666" stroke-width="0.4"/>
<g stroke="#444" stroke-width="0.6">
<line x1="67.8" y1="346.6" x2="67.8" y2="348.6"/><line x1="92.7" y1="346.6" x2="92.7" y2="348.6"/><line x1="117.6" y1="346.6" x2="117.6" y2="348.6"/><line x1="142.5" y1="346.6" x2="142.5" y2="348.6"/><line x1="167.5" y1="346.6" x2="167.5" y2="348.6"/><line x1="192.4" y1="346.6" x2="192.4" y2="348.6"/><line x1="217.4" y1="346.6" x2="217.4" y2="348.6"/><line x1="242.4" y1="346.6" x2="242.4" y2="348.6"/><line x1="267.3" y1="346.6" x2="267.3" y2="348.6"/>
</g>
<g class="t" font-size="8.6" text-anchor="middle" fill="#222">
<text x="67.8" y="356.5">−160</text><text x="92.7" y="356.5">−140</text><text x="117.6" y="356.5">−120</text><text x="142.5" y="356.5">−100</text><text x="167.5" y="356.5">−80</text><text x="192.4" y="356.5">−60</text><text x="217.4" y="356.5">−40</text><text x="242.4" y="356.5">−20</text><text x="267.3" y="356.5">0</text>
</g>
<text class="t" x="275.4" y="345" font-size="13.2">mm</text>
<rect x="309.5" y="3.8" width="84.3" height="106.4" fill="none" stroke="#6a6a6a" stroke-width="0.5"/>
<rect x="400.5" y="3.7" width="5.3" height="106.0" fill="none" stroke="#777" stroke-width="0.4"/>
<path d="M309.5,4.50h-1.3M309.5,24.60h-1.3M309.5,44.70h-1.3M309.5,64.80h-1.3M309.5,84.90h-1.3M309.5,105.00h-1.3M310.00,110.2v1.3M330.00,110.2v1.3M350.00,110.2v1.3M370.00,110.2v1.3M390.00,110.2v1.3" stroke="#444" stroke-width="0.4" fill="none"/>
<g class="tk" text-anchor="end"><text x="307.5" y="5.90">0</text><text x="307.5" y="26.00">50</text><text x="307.5" y="46.10">100</text><text x="307.5" y="66.20">150</text><text x="307.5" y="86.30">200</text><text x="307.5" y="106.40">250</text></g>
<g class="tk" text-anchor="middle"><text x="310.00" y="115.9">0</text><text x="330.00" y="115.9">50</text><text x="350.00" y="115.9">100</text><text x="370.00" y="115.9">150</text><text x="390.00" y="115.9">200</text></g>
<path d="M405.8,12.90h1.2M405.8,34.70h1.2M405.8,56.60h1.2M405.8,78.70h1.2M405.8,100.50h1.2" stroke="#444" stroke-width="0.4" fill="none"/>
<g class="tk"><text x="408.0" y="14.30">0.4</text><text x="408.0" y="36.10">0.2</text><text x="408.0" y="58.00">0.0</text><text x="408.0" y="80.10">−0.2</text><text x="408.0" y="101.90">−0.4</text></g>
<text class="tk" font-size="4.2" text-anchor="middle" transform="translate(298.9,40.0) rotate(-90)">uphill</text>
<text class="tk" font-size="4.2" text-anchor="middle" transform="translate(298.9,71.2) rotate(-90)">downhill</text>
<text x="347.3" y="15.0" font-size="8.2" fill="#233a44" font-family="Liberation Serif, serif">tilt</text>
<text x="374.5" y="104.8" font-size="14.5" fill="#1a2630" stroke="#1a2630" stroke-width="0.25" font-family="Liberation Serif, serif">(b)</text>
<text x="395.0" y="116.7" font-size="10.8" fill="#111" font-family="Liberation Serif, serif">mm/m</text>
<rect x="434.5" y="5.6" width="81.3" height="103.2" fill="none" stroke="#6a6a6a" stroke-width="0.5"/>
<rect x="522.7" y="6.0" width="5.3" height="102.7" fill="none" stroke="#777" stroke-width="0.4"/>
<path d="M434.5,6.00h-1.3M434.5,25.50h-1.3M434.5,45.00h-1.3M434.5,64.50h-1.3M434.5,84.00h-1.3M434.5,103.50h-1.3M435.20,108.8v1.3M454.60,108.8v1.3M474.00,108.8v1.3M493.40,108.8v1.3M512.80,108.8v1.3" stroke="#444" stroke-width="0.4" fill="none"/>
<g class="tk" text-anchor="end"><text x="432.5" y="7.40">0</text><text x="432.5" y="26.90">50</text><text x="432.5" y="46.40">100</text><text x="432.5" y="65.90">150</text><text x="432.5" y="85.40">200</text><text x="432.5" y="104.90">250</text></g>
<g class="tk" text-anchor="middle"><text x="435.20" y="114.6">0</text><text x="454.60" y="114.6">50</text><text x="474.00" y="114.6">100</text><text x="493.40" y="114.6">150</text><text x="512.80" y="114.6">200</text></g>
<path d="M528.0,18.00h1.2M528.0,31.20h1.2M528.0,44.30h1.2M528.0,57.30h1.2M528.0,70.50h1.2M528.0,83.50h1.2M528.0,96.10h1.2" stroke="#444" stroke-width="0.4" fill="none"/>
<g class="tk"><text x="530.2" y="19.40">0.3</text><text x="530.2" y="32.60">0.2</text><text x="530.2" y="45.70">0.1</text><text x="530.2" y="58.70">0.0</text><text x="530.2" y="71.90">−0.1</text><text x="530.2" y="84.90">−0.2</text><text x="530.2" y="97.50">−0.3</text></g>
<text class="tk" font-size="4.2" text-anchor="middle" transform="translate(423.9,40.0) rotate(-90)">uphill</text>
<text class="tk" font-size="4.2" text-anchor="middle" transform="translate(423.9,70.8) rotate(-90)">downhill</text>
<text x="474.7" y="15.8" font-size="8.2" fill="#233a44" font-family="Liberation Serif, serif">tilt</text>
<text x="496.5" y="103.3" font-size="14.5" fill="#1a2630" stroke="#1a2630" stroke-width="0.25" font-family="Liberation Serif, serif">(c)</text>
<text x="518.4" y="117.4" font-size="10.8" fill="#111" font-family="Liberation Serif, serif">mm/m</text>
<rect x="311.5" y="122.1" width="81.3" height="103.0" fill="none" stroke="#6a6a6a" stroke-width="0.5"/>
<rect x="399.7" y="122.0" width="5.3" height="102.9" fill="none" stroke="#777" stroke-width="0.4"/>
<path d="M311.5,122.50h-1.3M311.5,142.08h-1.3M311.5,161.66h-1.3M311.5,181.24h-1.3M311.5,200.82h-1.3M311.5,220.40h-1.3M312.00,225.1v1.3M331.50,225.1v1.3M351.00,225.1v1.3M370.50,225.1v1.3M390.00,225.1v1.3" stroke="#444" stroke-width="0.4" fill="none"/>
<g class="tk" text-anchor="end"><text x="309.5" y="123.90">0</text><text x="309.5" y="143.48">50</text><text x="309.5" y="163.06">100</text><text x="309.5" y="182.64">150</text><text x="309.5" y="202.22">200</text><text x="309.5" y="221.80">250</text></g>
<g class="tk" text-anchor="middle"><text x="312.00" y="230.2">0</text><text x="331.50" y="230.2">50</text><text x="351.00" y="230.2">100</text><text x="370.50" y="230.2">150</text><text x="390.00" y="230.2">200</text></g>
<path d="M405.0,128.30h1.2M405.0,141.70h1.2M405.0,155.00h1.2M405.0,168.70h1.2M405.0,182.00h1.2M405.0,195.30h1.2M405.0,208.90h1.2M405.0,222.10h1.2" stroke="#444" stroke-width="0.4" fill="none"/>
<g class="tk"><text x="407.2" y="129.70">100</text><text x="407.2" y="143.10">80</text><text x="407.2" y="156.40">60</text><text x="407.2" y="170.10">40</text><text x="407.2" y="183.40">20</text><text x="407.2" y="196.70">0</text><text x="407.2" y="210.30">−20</text><text x="407.2" y="223.50">−40</text></g>
<text class="tk" font-size="4.2" text-anchor="middle" transform="translate(301.1,157.5) rotate(-90)">uphill</text>
<text class="tk" font-size="4.2" text-anchor="middle" transform="translate(301.1,186.0) rotate(-90)">downhill</text>
<text x="318.3" y="132.2" font-size="8.2" fill="#233a44" font-family="Liberation Serif, serif">horizontal movement</text>
<text x="373.3" y="219.8" font-size="14.5" fill="#1a2630" stroke="#1a2630" stroke-width="0.25" font-family="Liberation Serif, serif">(d)</text>
<text x="398.0" y="232.6" font-size="10.8" fill="#111" font-family="Liberation Serif, serif">mm</text>
<rect x="435.0" y="121.8" width="82.5" height="104.6" fill="none" stroke="#6a6a6a" stroke-width="0.5"/>
<rect x="525.0" y="121.7" width="5.1" height="104.7" fill="none" stroke="#777" stroke-width="0.4"/>
<path d="M435.0,122.00h-1.3M435.0,141.85h-1.3M435.0,161.70h-1.3M435.0,181.55h-1.3M435.0,201.40h-1.3M435.0,221.25h-1.3M435.20,226.4v1.3M455.20,226.4v1.3M475.20,226.4v1.3M495.20,226.4v1.3M515.20,226.4v1.3" stroke="#444" stroke-width="0.4" fill="none"/>
<g class="tk" text-anchor="end"><text x="433.0" y="123.40">0</text><text x="433.0" y="143.25">50</text><text x="433.0" y="163.10">100</text><text x="433.0" y="182.95">150</text><text x="433.0" y="202.80">200</text><text x="433.0" y="222.65">250</text></g>
<g class="tk" text-anchor="middle"><text x="435.20" y="231.9">0</text><text x="455.20" y="231.9">50</text><text x="475.20" y="231.9">100</text><text x="495.20" y="231.9">150</text><text x="515.20" y="231.9">200</text></g>
<path d="M530.1,124.10h1.2M530.1,140.70h1.2M530.1,157.30h1.2M530.1,173.90h1.2M530.1,190.40h1.2M530.1,207.50h1.2M530.1,224.10h1.2" stroke="#444" stroke-width="0.4" fill="none"/>
<g class="tk"><text x="532.3" y="125.50">60</text><text x="532.3" y="142.10">40</text><text x="532.3" y="158.70">20</text><text x="532.3" y="175.30">0</text><text x="532.3" y="191.80">−20</text><text x="532.3" y="208.90">−40</text><text x="532.3" y="225.50">−60</text></g>
<text class="tk" font-size="4.2" text-anchor="middle" transform="translate(423.9,158.0) rotate(-90)">uphill</text>
<text class="tk" font-size="4.2" text-anchor="middle" transform="translate(423.9,186.0) rotate(-90)">downhill</text>
<text x="443.3" y="131.7" font-size="8.2" fill="#233a44" font-family="Liberation Serif, serif">horizontal movement</text>
<text x="498.0" y="219.3" font-size="14.5" fill="#1a2630" stroke="#1a2630" stroke-width="0.25" font-family="Liberation Serif, serif">(e)</text>
<text x="520.2" y="233.2" font-size="10.8" fill="#111" font-family="Liberation Serif, serif">mm</text>
<rect x="314.0" y="236.7" width="81.6" height="103.1" fill="none" stroke="#6a6a6a" stroke-width="0.5"/>
<rect x="402.5" y="236.7" width="5.3" height="102.9" fill="none" stroke="#777" stroke-width="0.4"/>
<path d="M314.0,237.00h-1.3M314.0,256.62h-1.3M314.0,276.24h-1.3M314.0,295.86h-1.3M314.0,315.48h-1.3M314.0,335.10h-1.3M314.40,339.8v1.3M333.90,339.8v1.3M353.40,339.8v1.3M372.90,339.8v1.3M392.40,339.8v1.3" stroke="#444" stroke-width="0.4" fill="none"/>
<g class="tk" text-anchor="end"><text x="312.0" y="238.40">0</text><text x="312.0" y="258.02">50</text><text x="312.0" y="277.64">100</text><text x="312.0" y="297.26">150</text><text x="312.0" y="316.88">200</text><text x="312.0" y="336.50">250</text></g>
<g class="tk" text-anchor="middle"><text x="314.40" y="345.5">0</text><text x="333.90" y="345.5">50</text><text x="353.40" y="345.5">100</text><text x="372.90" y="345.5">150</text><text x="392.40" y="345.5">200</text></g>
<path d="M407.8,253.30h1.2M407.8,275.30h1.2M407.8,297.10h1.2M407.8,318.75h1.2" stroke="#444" stroke-width="0.4" fill="none"/>
<g class="tk"><text x="410.0" y="254.70">0.2</text><text x="410.0" y="276.70">0.0</text><text x="410.0" y="298.50">−0.2</text><text x="410.0" y="320.15">−0.4</text></g>
<text class="tk" font-size="4.2" text-anchor="middle" transform="translate(303.4,271.7) rotate(-90)">uphill</text>
<text class="tk" font-size="4.2" text-anchor="middle" transform="translate(303.4,301.5) rotate(-90)">downhill</text>
<text x="317.2" y="248.5" font-size="8.2" fill="#233a44" font-family="Liberation Serif, serif">horizontal deformation</text>
<text x="375.0" y="335.6" font-size="14.5" fill="#1a2630" stroke="#1a2630" stroke-width="0.25" font-family="Liberation Serif, serif">(f)</text>
<text x="399.2" y="346.5" font-size="10.8" fill="#111" font-family="Liberation Serif, serif">mm/m</text>
<rect x="436.1" y="236.7" width="80.6" height="102.1" fill="none" stroke="#6a6a6a" stroke-width="0.5"/>
<rect x="523.8" y="236.7" width="4.9" height="102.1" fill="none" stroke="#777" stroke-width="0.4"/>
<path d="M436.1,237.30h-1.3M436.1,256.70h-1.3M436.1,276.10h-1.3M436.1,295.50h-1.3M436.1,314.90h-1.3M436.1,334.30h-1.3M437.50,338.8v1.3M456.65,338.8v1.3M475.80,338.8v1.3M494.95,338.8v1.3M514.10,338.8v1.3" stroke="#444" stroke-width="0.4" fill="none"/>
<g class="tk" text-anchor="end"><text x="434.1" y="238.70">0</text><text x="434.1" y="258.10">50</text><text x="434.1" y="277.50">100</text><text x="434.1" y="296.90">150</text><text x="434.1" y="316.30">200</text><text x="434.1" y="335.70">250</text></g>
<g class="tk" text-anchor="middle"><text x="437.50" y="343.6">0</text><text x="456.65" y="343.6">50</text><text x="475.80" y="343.6">100</text><text x="494.95" y="343.6">150</text><text x="514.10" y="343.6">200</text></g>
<path d="M528.7,252.40h1.2M528.7,270.10h1.2M528.7,288.20h1.2M528.7,305.80h1.2M528.7,323.50h1.2" stroke="#444" stroke-width="0.4" fill="none"/>
<g class="tk"><text x="530.9" y="253.80">0.1</text><text x="530.9" y="271.50">0.0</text><text x="530.9" y="289.60">−0.1</text><text x="530.9" y="307.20">−0.2</text><text x="530.9" y="324.90">−0.3</text></g>
<text class="tk" font-size="4.2" text-anchor="middle" transform="translate(425.4,272.0) rotate(-90)">uphill</text>
<text class="tk" font-size="4.2" text-anchor="middle" transform="translate(425.4,301.0) rotate(-90)">downhill</text>
<text x="439.4" y="248.1" font-size="8.2" fill="#233a44" font-family="Liberation Serif, serif">horizontal deformation</text>
<text x="498.0" y="333.7" font-size="14.5" fill="#1a2630" stroke="#1a2630" stroke-width="0.25" font-family="Liberation Serif, serif">(g)</text>
<text x="520.4" y="345.4" font-size="10.8" fill="#111" font-family="Liberation Serif, serif">mm/m</text>

</svg>
<script>
(function(){
var P={"b": {"rect": [309.5, 3.8, 393.8, 110.2], "vmin": -0.484, "vmax": 0.484, "kind": "dy", "cx": 352.5, "cy": 64, "sx": 10, "sy": 8.5, "A": 0.484, "B": 0, "cb": [400.5, 3.7, 405.8, 109.7]}, "c": {"rect": [434.5, 5.6, 515.8, 108.8], "vmin": -0.39, "vmax": 0.39, "kind": "dxn", "cx": 475.3, "cy": 63.7, "sx": 10.3, "sy": 9, "A": 0.365, "B": 0, "cb": [522.7, 6, 528, 108.7]}, "d": {"rect": [311.5, 122.1, 392.8, 225.1], "vmin": -44.2, "vmax": 109.4, "kind": "two", "cx": 352.5, "cy": 177, "sx": 9.5, "sy": 7, "A": 44, "B": 109, "yn": 169, "yp": 187, "sxp": 10, "syp": 7, "cb": [399.7, 122, 405, 224.9]}, "e": {"rect": [435.0, 121.8, 517.5, 226.4], "vmin": -62.9, "vmax": 62.9, "kind": "dxn", "cx": 476.6, "cy": 181, "sx": 11, "sy": 9.5, "A": 59, "B": 0, "cb": [525, 121.7, 530.1, 226.4]}, "f": {"rect": [314.0, 236.7, 395.6, 339.8], "vmin": -0.591, "vmax": 0.352, "kind": "hat_y", "cx": 355.2, "cy": 294.8, "sx": 10, "sy": 8.5, "A": 0.591, "B": 0.2, "cb": [402.5, 236.7, 407.8, 339.6]}, "g": {"rect": [436.1, 236.7, 516.7, 338.8], "vmin": -0.386, "vmax": 0.189, "kind": "hat_x", "cx": 476.7, "cy": 294.3, "sx": 10.5, "sy": 9, "A": 0.386, "B": 0, "cb": [523.8, 236.7, 528.7, 338.8]}}, W=550, H=360;
// heat panels
function rainbow(s){s=Math.max(0,Math.min(1,s));var r=Math.abs(2*s-0.5),g=Math.sin(Math.PI*s),b=Math.cos(Math.PI*s/2);
 return [Math.min(1,r)*255,Math.max(0,g)*255,Math.max(0,b)*255];}
var hc=document.getElementById('heat'),hx=hc.getContext('2d');
var him=hx.createImageData(W,H),hd=him.data;
function field(p,x,y){
  var u=(x-p.cx)/p.sx,v=(y-p.cy)/p.sy,g;
  switch(p.kind){
   case 'dy': return p.A*v*Math.exp(0.5-0.5*(u*u+v*v));
   case 'dxn': return -p.A*u*Math.exp(0.5-0.5*(u*u+v*v));
   case 'two':
     var un=(x-p.cx)/p.sx,vn=(y-p.yn)/p.sy,up=(x-p.cx)/p.sxp,vp=(y-p.yp)/p.syp;
     return -p.A*Math.exp(-0.5*(un*un+vn*vn))+p.B*Math.exp(-0.5*(up*up+vp*vp));
   case 'hat_y': g=Math.exp(-0.5*(u*u+v*v)); return (-p.A*(1-v*v)+p.B*v)*g;
   case 'hat_x': g=Math.exp(-0.5*(u*u+v*v)); return (-p.A*(1-u*u)+p.B*u)*g;
  }
  return 0;
}
// colorbars and images
function drawCB(x0,y0,x1,y1){ // vertical, top purple (vmax) bottom red
  for(var y=Math.floor(y0);y<Math.ceil(y1);y++){
    var s=(y+0.5-y0)/(y1-y0); var c=rainbow(s);
    for(var x=Math.floor(x0);x<Math.ceil(x1);x++){
      var cov=Math.max(0,Math.min(x+1,x1)-Math.max(x,x0))*Math.max(0,Math.min(y+1,y1)-Math.max(y,y0));
      var o=(y*W+x)*4; hd[o]=c[0];hd[o+1]=c[1];hd[o+2]=c[2];hd[o+3]=255*cov;
    }
  }
}
for(var key in P){var p=P[key],rc=p.rect;
  for(var y=Math.floor(rc[1]);y<Math.ceil(rc[3]);y++){for(var x=Math.floor(rc[0]);x<Math.ceil(rc[2]);x++){
    var cov=Math.max(0,Math.min(x+1,rc[2])-Math.max(x,rc[0]))*Math.max(0,Math.min(y+1,rc[3])-Math.max(y,rc[1]));
    var val=field(p,x+0.5,y+0.5); var s=(p.vmax-val)/(p.vmax-p.vmin); var c=rainbow(s);
    var o=(y*W+x)*4; hd[o]=c[0];hd[o+1]=c[1];hd[o+2]=c[2];hd[o+3]=255*cov;
  }}
  if(p.cb) drawCB(p.cb[0],p.cb[1],p.cb[2],p.cb[3]);
}
hx.putImageData(him,0,0);
})();
</script>
</body></html>
